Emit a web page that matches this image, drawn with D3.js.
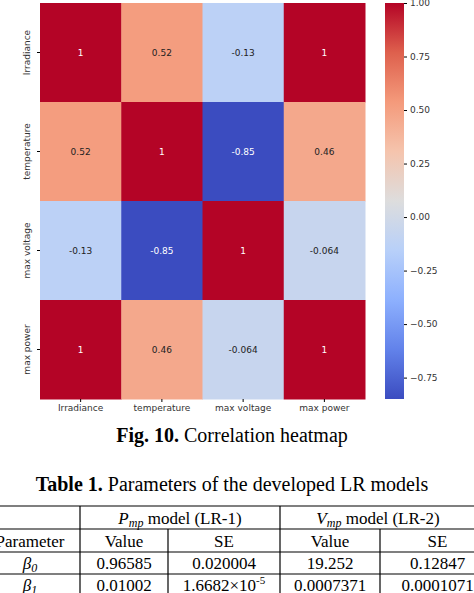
<!DOCTYPE html><html><head><meta charset="utf-8"><script src="https://d3js.org/d3.v7.min.js"></script>
<style>body{margin:0;background:#fff}</style></head><body><svg width="474" height="593"></svg><script>
const vars=["Irradiance","temperature","max voltage","max power"];
const matrix=[[1,0.52,-0.13,1],[0.52,1,-0.85,0.46],[-0.13,-0.85,1,-0.064],[1,0.46,-0.064,1]];
const cbTicks=[1.00,0.75,0.50,0.25,0.00,-0.25,-0.50,-0.75];
const tableHead2=["Parameter","Value","SE","Value","SE"];
const rowsData=[["β0","0.96585","0.020004","19.252","0.12847"],["β1","0.01002","1.6682×10-5","0.0007371","0.0001071"]];
const svg=d3.select("svg");
const stops=[[59,76,192],[98,130,234],[141,176,254],[184,208,249],[221,221,221],[245,196,173],[244,154,123],[222,96,77],[180,4,38]];
const vmin=-0.85,vmax=1;
const col=d3.scaleLinear().domain(stops.map((d,i)=>vmin+(vmax-vmin)*i/8)).range(stops.map(s=>`rgb(${s})`));
const x=d3.scaleBand().domain(vars).range([40,365]);
const y=d3.scaleBand().domain(vars).range([3,399]);
const g=svg.append("g");
matrix.forEach((r,i)=>r.forEach((v,j)=>{
 g.append("rect").attr("x",x(vars[j])).attr("y",y(vars[i])).attr("width",x.bandwidth()+0.5).attr("height",y.bandwidth()+0.5).attr("fill",col(v));
 g.append("text").attr("x",x(vars[j])+x.bandwidth()/2).attr("y",y(vars[i])+y.bandwidth()/2).attr("dy","0.35em").attr("text-anchor","middle")
  .attr("font-family","DejaVu Sans").attr("font-size",9).attr("fill",Math.abs(v)>0.6?"#fff":"#222").text(v);
}));
const ax=svg.append("g").attr("transform","translate(0,399)").call(d3.axisBottom(x).tickSize(3).tickPadding(3));
ax.select(".domain").remove();ax.selectAll("text").attr("font-family","DejaVu Sans").attr("font-size",9).attr("fill","#333");
const ay=svg.append("g").attr("transform","translate(40,0)").call(d3.axisLeft(y).tickSize(3).tickPadding(3));
ay.select(".domain").remove();
ay.selectAll("text").attr("font-family","DejaVu Sans").attr("font-size",9).attr("fill","#333").attr("text-anchor","middle")
 .attr("transform","rotate(-90)").attr("x",0).attr("y",-12).attr("dy","0").each(function(d){d3.select(this).attr("transform",`translate(-12,${0}) rotate(-90)`).attr("x",0).attr("y",0)});
ay.selectAll("text").attr("transform","rotate(-90)").attr("x",null).attr("y",null);
ay.selectAll(".tick text").attr("transform","translate(-10,0) rotate(-90)");
// colorbar
const cy=d3.scaleLinear().domain([vmin,vmax]).range([399,3]);
const defs=svg.append("defs");const lg=defs.append("linearGradient").attr("id","cb").attr("x1",0).attr("y1",1).attr("x2",0).attr("y2",0);
stops.forEach((s,i)=>lg.append("stop").attr("offset",i/8).attr("stop-color",`rgb(${s})`));
svg.append("rect").attr("x",385).attr("y",3).attr("width",19).attr("height",396).attr("fill","url(#cb)");
const ac=svg.append("g").attr("transform","translate(404,0)").call(d3.axisRight(cy).tickValues(cbTicks).tickFormat(d3.format(".2f")).tickSize(3));
ac.select(".domain").remove();ac.selectAll("text").attr("font-family","DejaVu Sans").attr("font-size",9).attr("fill","#333").text(d=>d3.format(".2f")(d).replace("-","\u2212"));
// caption
const tf="Liberation Serif";
const cap=svg.append("text").attr("x",232).attr("y",442).attr("text-anchor","middle").attr("font-family",tf).attr("font-size",20);
cap.append("tspan").attr("font-weight","bold").text("Fig. 10.");cap.append("tspan").text(" Correlation heatmap");
const tt=svg.append("text").attr("x",232).attr("y",491).attr("text-anchor","middle").attr("font-family",tf).attr("font-size",20);
tt.append("tspan").attr("font-weight","bold").text("Table 1.");tt.append("tspan").text(" Parameters of the developed LR models");
// table
const cx=[-20,80,168,280,380,495];const ry=[506,529,552,574,597];
const L=svg.append("g").attr("stroke","#000").attr("stroke-width",1.2);
ry.forEach(v=>L.append("line").attr("x1",0).attr("x2",474).attr("y1",v).attr("y2",v));
L.append("line").attr("x1",80).attr("x2",80).attr("y1",506).attr("y2",597);
L.append("line").attr("x1",280).attr("x2",280).attr("y1",506).attr("y2",597);
[168,380].forEach(v=>L.append("line").attr("x1",v).attr("x2",v).attr("y1",529).attr("y2",597));
const T=(xx,yy,s,it)=>svg.append("text").attr("x",xx).attr("y",yy).attr("text-anchor","middle").attr("font-family",tf).attr("font-size",17).attr("font-style",it?"italic":null).text(s);
let h=svg.append("text").attr("x",180).attr("y",524).attr("text-anchor","middle").attr("font-family",tf).attr("font-size",17);
h.append("tspan").attr("font-style","italic").text("P");h.append("tspan").attr("font-style","italic").attr("font-size",12).attr("dy",3).text("mp");h.append("tspan").attr("dy",-3).text(" model (LR-1)");
h=svg.append("text").attr("x",378).attr("y",524).attr("text-anchor","middle").attr("font-family",tf).attr("font-size",17);
h.append("tspan").attr("font-style","italic").text("V");h.append("tspan").attr("font-style","italic").attr("font-size",12).attr("dy",3).text("mp");h.append("tspan").attr("dy",-3).text(" model (LR-2)");
tableHead2.forEach((s,i)=>T((cx[i]+cx[i+1])/2,547,s));
rowsData.forEach((r,k)=>r.forEach((s,i)=>{
 const yy=ry[k+2]+17;const xx=(cx[i]+cx[i+1])/2;
 if(i==0){const t=svg.append("text").attr("x",xx).attr("y",yy).attr("text-anchor","middle").attr("font-family",tf).attr("font-size",17).attr("font-style","italic");
  t.append("tspan").text("β");t.append("tspan").attr("font-size",12).attr("dy",3).text(s.slice(1));}
 else if(s.includes("×10")){const p=s.split("-");const t=svg.append("text").attr("x",xx).attr("y",yy).attr("text-anchor","middle").attr("font-family",tf).attr("font-size",17);
  t.append("tspan").text(p[0]);t.append("tspan").attr("font-size",11).attr("dy",-7).text("-"+p[1]);}
 else T(xx,yy,s);
}));
</script></body></html>
